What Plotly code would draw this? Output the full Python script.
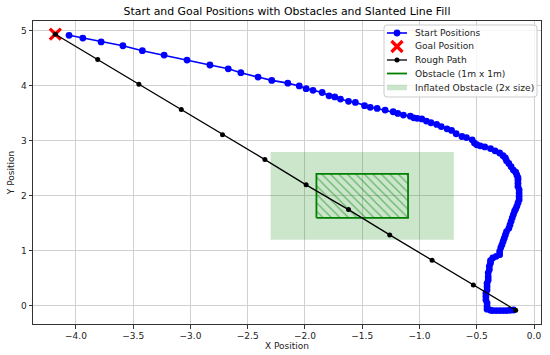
import plotly.graph_objects as go

# ---------------- data ----------------
start_x = [-4.06, -3.94, -3.78, -3.59, -3.42, -3.23, -3.03, -2.83, -2.67, -2.56,
           -2.41, -2.29, -2.15, -2.05, -1.99, -1.93, -1.85, -1.79, -1.74, -1.69,
           -1.62, -1.56, -1.48, -1.43, -1.37, -1.30, -1.23, -1.19, -1.14, -1.08,
           -1.05, -1.02, -0.98, -0.94, -0.90, -0.85, -0.81, -0.76, -0.72, -0.68,
           -0.63, -0.59, -0.54, -0.52, -0.50, -0.47, -0.43, -0.38, -0.34, -0.30,
           -0.27, -0.25, -0.24, -0.22, -0.20, -0.18, -0.16, -0.15, -0.14, -0.14,
           -0.14, -0.14, -0.13, -0.13, -0.13, -0.13, -0.14, -0.15, -0.16, -0.17,
           -0.18, -0.19, -0.20, -0.21, -0.22, -0.24, -0.25, -0.26, -0.27, -0.28,
           -0.29, -0.30, -0.30, -0.33, -0.36, -0.38, -0.38, -0.39, -0.39, -0.40,
           -0.40, -0.40, -0.41, -0.41, -0.41, -0.42, -0.42, -0.42, -0.41, -0.41,
           -0.41, -0.38, -0.36, -0.33, -0.30, -0.27, -0.24, -0.21, -0.18]
start_y = [4.92, 4.87, 4.80, 4.73, 4.64, 4.56, 4.47, 4.38, 4.31, 4.24,
           4.16, 4.10, 4.05, 4.00, 3.95, 3.92, 3.88, 3.82, 3.80, 3.76,
           3.72, 3.70, 3.64, 3.61, 3.59, 3.56, 3.53, 3.50, 3.47, 3.45,
           3.42, 3.41, 3.40, 3.36, 3.33, 3.30, 3.26, 3.22, 3.19, 3.13,
           3.08, 3.06, 3.02, 2.96, 2.93, 2.91, 2.89, 2.86, 2.82, 2.78,
           2.73, 2.69, 2.64, 2.59, 2.53, 2.47, 2.43, 2.38, 2.33, 2.29,
           2.23, 2.17, 2.11, 2.05, 1.99, 1.93, 1.87, 1.81, 1.76, 1.72,
           1.66, 1.60, 1.54, 1.47, 1.41, 1.35, 1.29, 1.23, 1.17, 1.11,
           1.06, 0.99, 0.93, 0.90, 0.87, 0.82, 0.78, 0.72, 0.66, 0.60,
           0.53, 0.47, 0.41, 0.35, 0.29, 0.23, 0.17, 0.11, 0.05, -0.01,
           -0.06, -0.08, -0.085, -0.085, -0.085, -0.085, -0.085, -0.08, -0.075]

goal_x = [-4.18]
goal_y = [4.94]

path_x = [-4.18, -3.81, -3.45, -3.08, -2.72, -2.35, -1.99, -1.62, -1.26, -0.89, -0.53, -0.16]
path_y = [4.94, 4.48, 4.03, 3.57, 3.11, 2.66, 2.20, 1.75, 1.29, 0.83, 0.38, -0.08]

obstacle_x = [-1.9, -1.1, -1.1, -1.9, -1.9]
obstacle_y = [1.6, 1.6, 2.4, 2.4, 1.6]

inflated_x = [-2.3, -0.7, -0.7, -2.3, -2.3]
inflated_y = [1.2, 1.2, 2.8, 2.8, 1.2]

x_ticks = [-4.0, -3.5, -3.0, -2.5, -2.0, -1.5, -1.0, -0.5, 0.0]
y_ticks = [0, 1, 2, 3, 4, 5]

legend_labels = ["Start Positions", "Goal Position", "Rough Path",
                 "Obstacle (1m x 1m)", "Inflated Obstacle (2x size)"]

# ---------------- figure ----------------
W, H = 550, 355
L, R, T, B = 33, 9, 21, 31
PW, PH = W - L - R, H - T - B

FONT = "DejaVu Sans"
TXT = "#222"
fig = go.Figure()

fig.add_trace(go.Scatter(x=inflated_x, y=inflated_y, mode="lines", fill="toself",
                         fillcolor="rgba(0,128,0,0.2)", line=dict(width=0),
                         hoverinfo="skip", showlegend=False))
fig.add_trace(go.Scatter(x=obstacle_x, y=obstacle_y, mode="lines", fill="toself",
                         fillcolor="rgba(0,0,0,0)",
                         fillpattern=dict(shape="\\", fgcolor="green", bgcolor="rgba(0,0,0,0)",
                                          size=6, solidity=0.2),
                         line=dict(color="green", width=1.8), showlegend=False))
fig.add_trace(go.Scatter(x=start_x, y=start_y, mode="lines+markers",
                         line=dict(color="blue", width=1.6),
                         marker=dict(color="blue", size=6.8), showlegend=False))
fig.add_trace(go.Scatter(x=goal_x, y=goal_y, mode="markers",
                         marker=dict(symbol="x-thin", size=11, color="red",
                                     line=dict(color="red", width=3.2)),
                         showlegend=False))
fig.add_trace(go.Scatter(x=path_x, y=path_y, mode="lines+markers",
                         line=dict(color="black", width=1.3),
                         marker=dict(color="black", size=5), showlegend=False))


def px(x):
    return (x - L) / PW


def py(y):
    return (H - B - y) / PH


shapes = []
annotations = []
# legend box with rounded corners
bx0, bx1, by0, by1, r = 384, 537, 25, 97, 3
path = (f"M {px(bx0 + r)},{py(by0)} L {px(bx1 - r)},{py(by0)} "
        f"Q {px(bx1)},{py(by0)} {px(bx1)},{py(by0 + r)} "
        f"L {px(bx1)},{py(by1 - r)} Q {px(bx1)},{py(by1)} {px(bx1 - r)},{py(by1)} "
        f"L {px(bx0 + r)},{py(by1)} Q {px(bx0)},{py(by1)} {px(bx0)},{py(by1 - r)} "
        f"L {px(bx0)},{py(by0 + r)} Q {px(bx0)},{py(by0)} {px(bx0 + r)},{py(by0)} Z")
shapes.append(dict(type="path", xref="paper", yref="paper", path=path,
                   fillcolor="rgba(255,255,255,0.8)", line=dict(color="#cccccc", width=1),
                   layer="above"))

rows = [33, 46.5, 60, 73.5, 87.5]
hx0, hx1, hc = 387, 407, 397
# Start positions
shapes.append(dict(type="line", xref="paper", yref="paper", x0=px(hx0), x1=px(hx1),
                   y0=py(rows[0]), y1=py(rows[0]), line=dict(color="blue", width=1.6), layer="above"))
shapes.append(dict(type="circle", xref="paper", yref="paper", x0=px(hc - 3.4), x1=px(hc + 3.4),
                   y0=py(rows[0] - 3.4), y1=py(rows[0] + 3.4), fillcolor="blue",
                   line=dict(width=0), layer="above"))
# Goal
for d in (1, -1):
    shapes.append(dict(type="line", xref="paper", yref="paper", x0=px(hc - 5.5), x1=px(hc + 5.5),
                       y0=py(rows[1] - 5.5 * d), y1=py(rows[1] + 5.5 * d),
                       line=dict(color="red", width=3.2), layer="above"))
# Rough path
shapes.append(dict(type="line", xref="paper", yref="paper", x0=px(hx0), x1=px(hx1),
                   y0=py(rows[2]), y1=py(rows[2]), line=dict(color="black", width=1.3), layer="above"))
shapes.append(dict(type="circle", xref="paper", yref="paper", x0=px(hc - 2.5), x1=px(hc + 2.5),
                   y0=py(rows[2] - 2.5), y1=py(rows[2] + 2.5), fillcolor="black",
                   line=dict(width=0), layer="above"))
# Obstacle
shapes.append(dict(type="line", xref="paper", yref="paper", x0=px(hx0), x1=px(hx1),
                   y0=py(rows[3]), y1=py(rows[3]), line=dict(color="green", width=1.8), layer="above"))
# Inflated
shapes.append(dict(type="rect", xref="paper", yref="paper", x0=px(hx0), x1=px(hx1),
                   y0=py(rows[4] - 2.8), y1=py(rows[4] + 2.8), fillcolor="rgba(0,128,0,0.2)",
                   line=dict(width=0), layer="above"))

for lab, yy in zip(legend_labels, rows):
    annotations.append(dict(text=lab, xref="paper", yref="paper", x=px(413), y=py(yy),
                            xanchor="left", yanchor="middle", showarrow=False,
                            font=dict(family=FONT, size=9.1, color=TXT)))

fig.update_layout(
    width=W, height=H,
    margin=dict(l=L, r=R, t=T, b=B, pad=0, autoexpand=False),
    paper_bgcolor="white", plot_bgcolor="white",
    title=dict(text="Start and Goal Positions with Obstacles and Slanted Line Fill",
               x=0.5, xref="paper", xanchor="center", y=1 - 11.5 / H, yanchor="middle",
               font=dict(family=FONT, size=10.9, color="black")),
    xaxis=dict(range=[-4.375, 0.061], tickvals=x_ticks, tickformat=".1f",
               showgrid=True, gridcolor="#d0d0d0", gridwidth=0.8, zeroline=False,
               showline=True, linecolor="#333", linewidth=1, mirror=True,
               ticks="outside", ticklen=3.5, tickcolor="#333", automargin=False,
               tickfont=dict(family=FONT, size=9, color=TXT),
               title=dict(text="X Position", font=dict(family=FONT, size=9, color=TXT), standoff=2)),
    yaxis=dict(range=[-0.33, 5.18], tickvals=y_ticks,
               showgrid=True, gridcolor="#d0d0d0", gridwidth=0.8, zeroline=False,
               showline=True, linecolor="#333", linewidth=1, mirror=True,
               ticks="outside", ticklen=3.5, tickcolor="#333", automargin=False,
               tickfont=dict(family=FONT, size=9, color=TXT),
               title=dict(text="Y Position", font=dict(family=FONT, size=9, color=TXT), standoff=4)),
    shapes=shapes, annotations=annotations,
    showlegend=False,
)

fig.write_html("out.html", config={"displayModeBar": False},
               post_script="document.body.style.margin='0';document.body.style.overflow='hidden';")
